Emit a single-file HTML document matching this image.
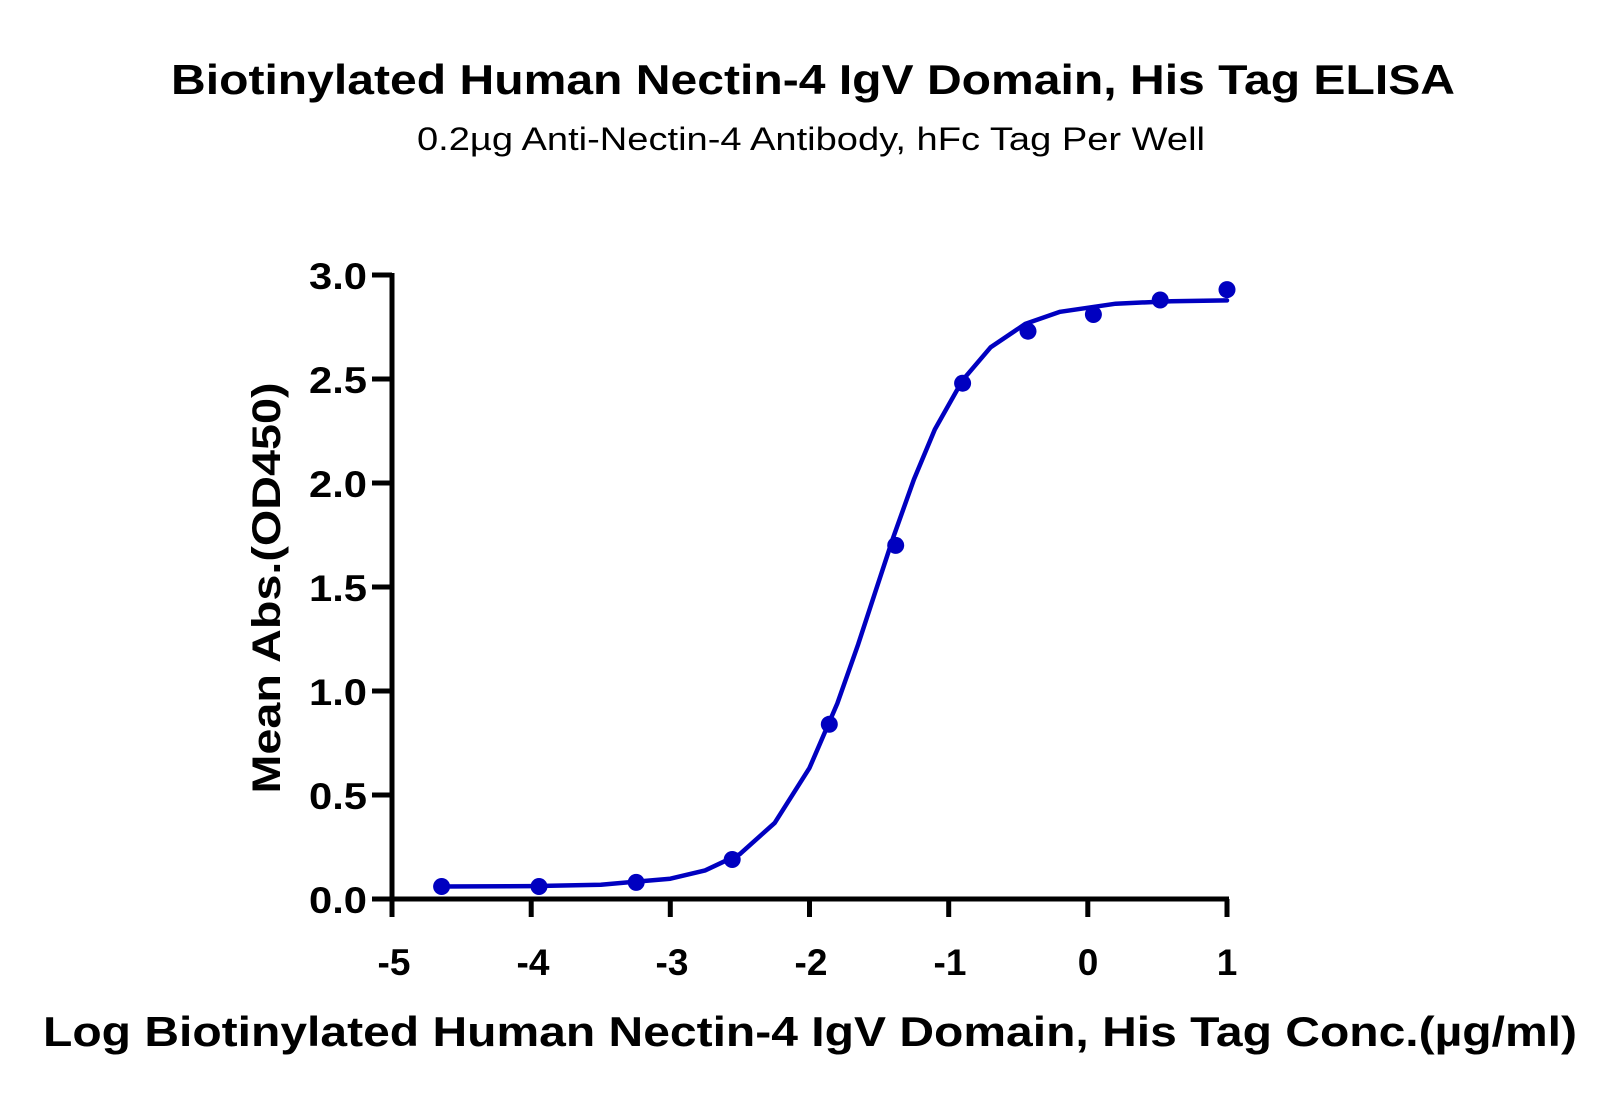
<!DOCTYPE html>
<html><head><meta charset="utf-8"><style>
html,body{margin:0;padding:0;background:#fff;}
svg{display:block;}
text{font-family:"Liberation Sans",sans-serif;fill:#000;}
</style></head><body>
<svg width="1614" height="1096" viewBox="0 0 1614 1096" xmlns="http://www.w3.org/2000/svg">
<text x="171" y="94" font-size="42" font-weight="bold" textLength="1284" lengthAdjust="spacingAndGlyphs">Biotinylated Human Nectin-4 IgV Domain, His Tag  ELISA</text>
<text x="417" y="150" font-size="32" textLength="788" lengthAdjust="spacingAndGlyphs">0.2µg Anti-Nectin-4 Antibody, hFc Tag Per Well</text>
<text transform="translate(280,588) rotate(-90)" x="0" y="0" font-size="40" font-weight="bold" text-anchor="middle" textLength="411" lengthAdjust="spacingAndGlyphs">Mean Abs.(OD450)</text>
<g stroke="#000" stroke-width="5" fill="none">
<line x1="392" y1="273" x2="392" y2="901"/>
<line x1="390" y1="899" x2="1229" y2="899"/>
<line x1="372" y1="275" x2="392" y2="275"/>
<line x1="372" y1="379" x2="392" y2="379"/>
<line x1="372" y1="483" x2="392" y2="483"/>
<line x1="372" y1="587" x2="392" y2="587"/>
<line x1="372" y1="691" x2="392" y2="691"/>
<line x1="372" y1="795" x2="392" y2="795"/>
<line x1="372" y1="899" x2="392" y2="899"/>
<line x1="392" y1="899" x2="392" y2="917"/>
<line x1="531.2" y1="899" x2="531.2" y2="917"/>
<line x1="670.3" y1="899" x2="670.3" y2="917"/>
<line x1="809.5" y1="899" x2="809.5" y2="917"/>
<line x1="948.7" y1="899" x2="948.7" y2="917"/>
<line x1="1087.8" y1="899" x2="1087.8" y2="917"/>
<line x1="1227" y1="899" x2="1227" y2="917"/>
</g>
<g font-size="37" font-weight="bold" text-anchor="end">
<text x="367" y="289" textLength="58" lengthAdjust="spacingAndGlyphs">3.0</text>
<text x="367" y="393" textLength="58" lengthAdjust="spacingAndGlyphs">2.5</text>
<text x="367" y="497" textLength="58" lengthAdjust="spacingAndGlyphs">2.0</text>
<text x="367" y="601" textLength="58" lengthAdjust="spacingAndGlyphs">1.5</text>
<text x="367" y="705" textLength="58" lengthAdjust="spacingAndGlyphs">1.0</text>
<text x="367" y="809" textLength="58" lengthAdjust="spacingAndGlyphs">0.5</text>
<text x="367" y="913" textLength="58" lengthAdjust="spacingAndGlyphs">0.0</text>
</g>
<g font-size="37" font-weight="bold" text-anchor="middle">
<text x="394" y="975">-5</text>
<text x="533" y="975">-4</text>
<text x="672" y="975">-3</text>
<text x="811" y="975">-2</text>
<text x="950" y="975">-1</text>
<text x="1088" y="975">0</text>
<text x="1227" y="975">1</text>
</g>
<text x="43" y="1046" font-size="42" font-weight="bold" textLength="1534" lengthAdjust="spacingAndGlyphs">Log Biotinylated Human Nectin-4 IgV Domain, His Tag Conc.(µg/ml)</text>
<polyline fill="none" stroke="#0000c0" stroke-width="4.5" stroke-linejoin="round" stroke-linecap="round" points="441.6,886.5 531.2,886.1 600.8,884.7 670.3,878.7 705.1,870.4 739.9,854.1 774.7,822.9 809.5,767.9 837.3,703.5 858.2,644.2 874.9,593.2 893.0,538.1 913.9,479.5 934.8,429.5 962.6,380.2 990.5,347.4 1025.3,323.9 1060.1,311.8 1115.7,303.7 1171.4,301.2 1227,300.4"/>
<g fill="#0000c0">
<circle cx="441.6" cy="886.5" r="8.5"/>
<circle cx="539" cy="886.5" r="8.5"/>
<circle cx="636.2" cy="882.4" r="8.5"/>
<circle cx="732.2" cy="859.5" r="8.5"/>
<circle cx="829.3" cy="724.3" r="8.5"/>
<circle cx="895.7" cy="545.4" r="8.5"/>
<circle cx="962.6" cy="383.2" r="8.5"/>
<circle cx="1028" cy="331.2" r="8.5"/>
<circle cx="1093.4" cy="314.5" r="8.5"/>
<circle cx="1160.2" cy="300" r="8.5"/>
<circle cx="1227" cy="289.6" r="8.5"/>
</g>
</svg>
</body></html>
